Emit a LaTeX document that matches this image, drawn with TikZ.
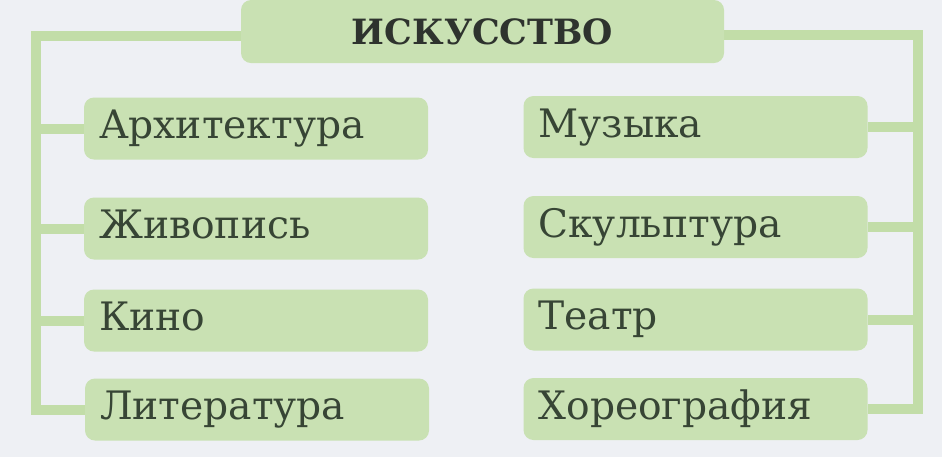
\documentclass[tikz,border=0pt]{standalone}
\usepackage{fontspec}
\setmainfont{DejaVu Serif}
\usetikzlibrary{backgrounds}
\definecolor{bg}{HTML}{EEF0F4}
\definecolor{boxgreen}{HTML}{C9E1B3}
\definecolor{linegreen}{HTML}{C2DDA8}
\definecolor{txt}{HTML}{374535}
\definecolor{ttl}{HTML}{2E332E}
\tikzset{
  itembox/.style={fill=boxgreen, draw=none, rounded corners=5pt,
    minimum width=172pt, minimum height=31pt, text width=157pt,
    inner xsep=7.5pt, align=left, text height=14pt, text depth=4pt,
    font=\fontsize{19.6pt}{21pt}\selectfont, text=txt},
  titlebox/.style={fill=boxgreen, draw=none, rounded corners=5pt,
    minimum width=241.5pt, minimum height=31.5pt,
    font=\fontsize{17.4pt}{20pt}\selectfont\bfseries, text=ttl},
  conn/.style={draw=linegreen, line width=5pt, line join=miter}
}
\begin{document}
\begin{tikzpicture}[x=0.5pt,y=-0.5pt]
\useasboundingbox (0,0) rectangle (942,457);
\node[titlebox] (title) at (482.5,31.5) {ИСКУССТВО};
\node[itembox] (L1) at (256,128.5) {Архитектура};
\node[itembox] (L2) at (256,228.5) {Живопись};
\node[itembox] (L3) at (256,320.5) {Кино};
\node[itembox] (L4) at (257,409.5) {Литература};
\node[itembox] (R1) at (695.5,127) {Музыка};
\node[itembox] (R2) at (695.5,227) {Скульптура};
\node[itembox] (R3) at (695.5,319.5) {Театр};
\node[itembox] (R4) at (695.5,409) {Хореография};
\coordinate (lt) at (36,36);
\coordinate (rt) at (918,35);
\begin{pgfonlayer}{background}
\fill[bg] (0,0) rectangle (942,457);
\draw[conn] (title.west |- lt) -- (lt) -- (lt |- L4.west) -- (L4.west);
\draw[conn] (lt |- L1.west) -- (L1.west);
\draw[conn] (lt |- L2.west) -- (L2.west);
\draw[conn] (lt |- L3.west) -- (L3.west);
\draw[conn] (title.east |- rt) -- (rt) -- (rt |- R4.east) -- (R4.east);
\draw[conn] (rt |- R1.east) -- (R1.east);
\draw[conn] (rt |- R2.east) -- (R2.east);
\draw[conn] (rt |- R3.east) -- (R3.east);
\end{pgfonlayer}
\end{tikzpicture}
\end{document}
